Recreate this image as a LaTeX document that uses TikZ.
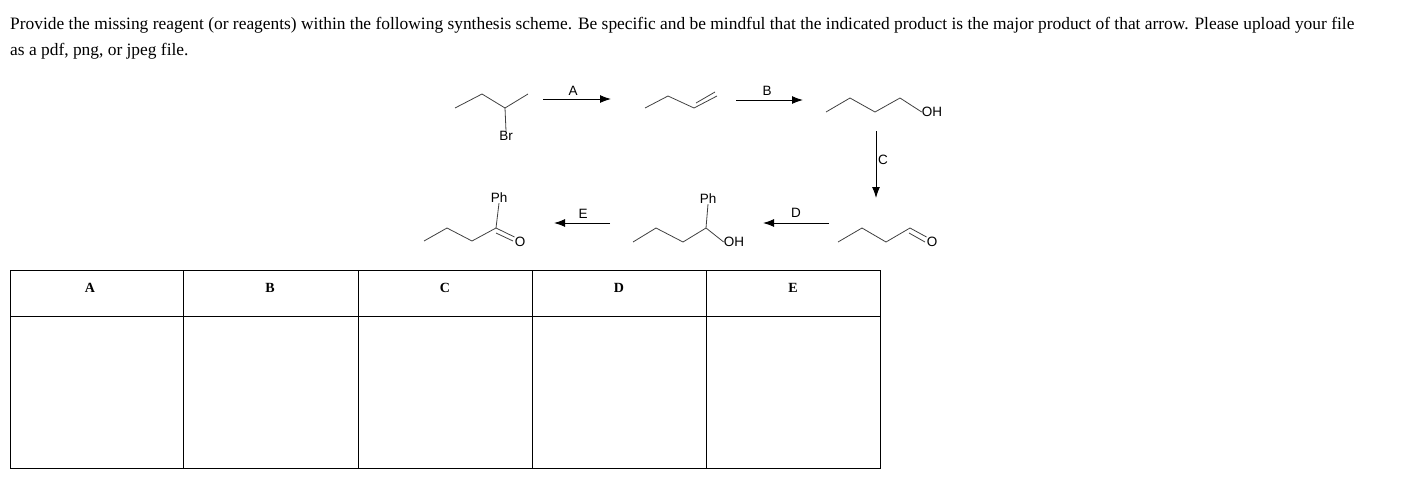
\documentclass[tikz,border=0pt]{standalone}
\usepackage{fontspec}
\setmainfont{Liberation Serif}
\newfontfamily\labf{Liberation Sans}
\usetikzlibrary{arrows.meta}
\begin{document}
\begin{tikzpicture}[x=1pt,y=-1pt,
  bond/.style={draw=black!75,line width=0.8pt,line join=round},
  rarr/.style={draw=black,line width=1pt,-{Latex[length=11pt,width=8pt]}},
  lab/.style={font=\labf\fontsize{13.5}{13.5}\selectfont,inner sep=0pt},
  txt/.style={font=\fontsize{17.4}{17.4}\selectfont,inner sep=0pt,anchor=base west},
  hdr/.style={font=\bfseries\fontsize{14}{14}\selectfont,inner sep=0pt}]
\useasboundingbox (0,0) rectangle (1423,485);
\node[txt] (t1) at (10,29) {Provide the missing reagent (or reagents) within the following synthesis scheme. Be specific and be mindful that the indicated product is the major product of that arrow. Please upload your file};
\node[txt] (t2) at (10,55) {as a pdf, png, or jpeg file.};
% molecule 1
\draw[bond] (455,108)--(482,94)--(505,108)--(528,94);
\node[lab] (br) at (506,136) {Br};
\draw[bond] (505,108)--(br.north);
% arrow A
\coordinate (a1) at (543,99); \coordinate (a2) at (611,99);
\draw[rarr] (a1)--(a2); \node[lab] (la) at (573,91) {A};
% molecule 2
\draw[bond] (645,108)--(668,96)--(694,108)--(717,96);
\draw[bond] (696,103)--(715,92);
% arrow B
\coordinate (b1) at (736,100); \coordinate (b2) at (803,100);
\draw[rarr] (b1)--(b2); \node[lab] (lb) at (767,91) {B};
% molecule 3
\node[lab] (oh1) at (932,112) {OH};
\draw[bond] (826,112)--(850,98)--(875,112)--(900,98)--(oh1.west);
% arrow C
\coordinate (c1) at (876,131); \coordinate (c2) at (876,198);
\draw[rarr] (c1)--(c2); \node[lab] (lc) at (883,160) {C};
% aldehyde
\node[lab] (o3) at (932,242) {O};
\draw[bond] (838,242)--(862,228)--(886,242)--(910,228)--(o3.north west);
\draw[bond] (909,233)--(925,242);
% arrow D
\coordinate (d1) at (829,223); \coordinate (d2) at (763,223);
\draw[rarr] (d1)--(d2); \node[lab] (ld) at (796,213) {D};
% alcohol
\node[lab] (ph2) at (708,199) {Ph};
\node[lab] (oh2) at (734,242) {OH};
\draw[bond] (633,242)--(656,228)--(683,242)--(706,228)--(oh2.west);
\draw[bond] (706,228)--(ph2.south);
% arrow E
\coordinate (e1) at (610,223); \coordinate (e2) at (554,223);
\draw[rarr] (e1)--(e2); \node[lab] (le) at (583,214) {E};
% ketone
\node[lab] (ph1) at (499,198) {Ph};
\node[lab] (o1) at (520,242) {O};
\draw[bond] (424,241)--(447,228)--(472,241)--(496,228)--(o1.north west);
\draw[bond] (496,233)--(513,241);
\draw[bond] (496,228)--(ph1.south);
% table
\draw[black,line width=0.8pt] (10,270) rectangle (880,468);
\draw[black,line width=0.8pt] (10,316)--(880,316);
\foreach \x in {183,358,532,706} \draw[black,line width=0.8pt] (\x,270)--(\x,468);
\node[hdr] (hA) at (90,288) {A};
\node[hdr] (hB) at (270,288) {B};
\node[hdr] (hC) at (445,288) {C};
\node[hdr] (hD) at (619,288) {D};
\node[hdr] (hE) at (793,288) {E};
\end{tikzpicture}
\end{document}
